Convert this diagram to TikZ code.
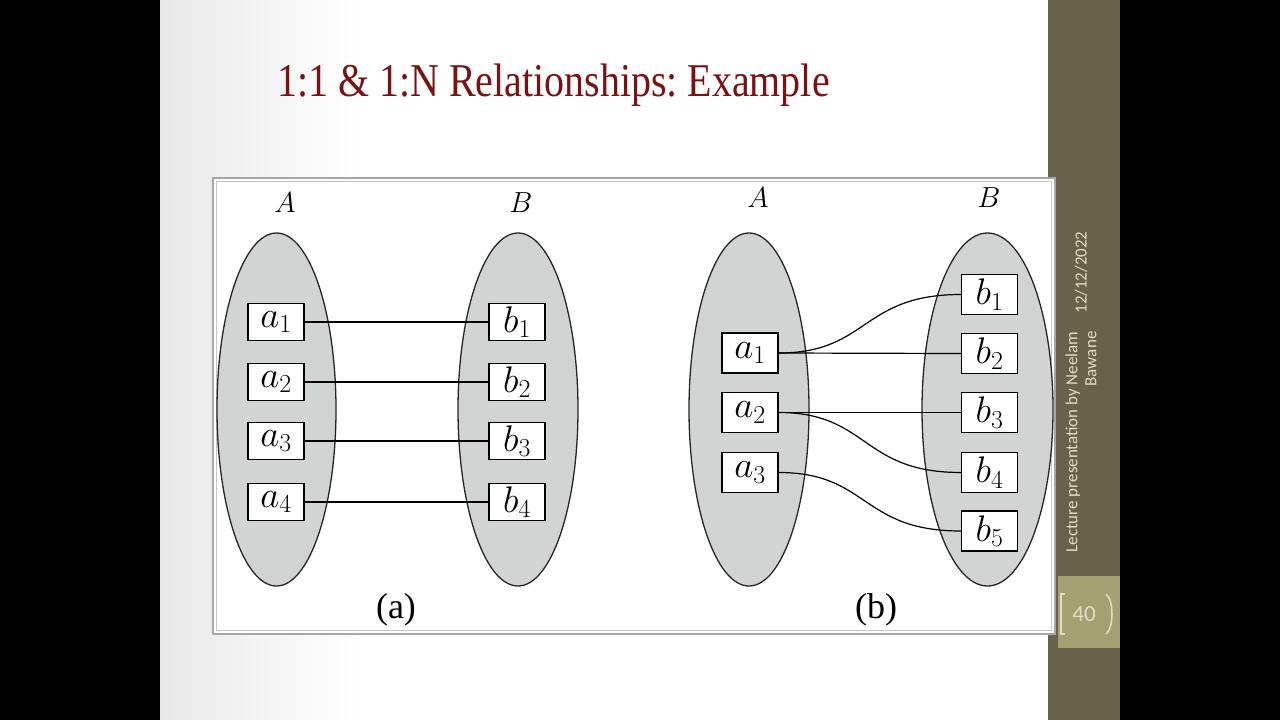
\RequirePackage{fix-cm}
\documentclass[tikz,border=0pt]{standalone}
\usepackage{amsmath}
\usepackage{fontspec}
\setmainfont{Liberation Serif}
\setsansfont{Carlito}
\usetikzlibrary{shapes.geometric}
\definecolor{titlered}{RGB}{122,18,20}
\definecolor{olivestrip}{RGB}{104,98,74}
\definecolor{olivebox}{RGB}{163,161,114}
\definecolor{cream}{RGB}{226,222,196}
\definecolor{setgray}{RGB}{210,212,212}
\begin{document}
\begin{tikzpicture}[x=1pt,y=-1pt,
  set/.style={ellipse, draw=black!85, fill=setgray, line width=1.3pt, inner sep=0pt},
  elem/.style={draw=black, fill=white, line width=1.4pt, minimum width=56pt, minimum height=37pt, inner sep=0pt, font=\fontsize{37}{37}\selectfont},
  lbl/.style={font=\fontsize{29}{29}\selectfont},
  subcap/.style={font=\fontsize{36}{36}\selectfont},
  link/.style={black, line width=1.2pt},
  side/.style={text=cream, font=\sffamily\fontsize{17}{19}\selectfont}]
              \useasboundingbox (0,0) rectangle (1280,720);
              \fill [black] (0,0) rectangle (1280,720);
              \fill [white] (160,0) rectangle (1048,720);
              \shade [left color=black!9, right color=white] (160,0) rectangle (360,720);
              \fill [olivestrip] (1048,0) rectangle (1120,720);
              \fill [olivebox] (1058,576) rectangle (1120,648);
              \node [anchor=base west, inner sep=0pt, text=titlered, font=\fontsize{47}{47}\selectfont] (title) at (277,96) {\scalebox{0.85}[1]{1:1 \& 1:N Relationships:\hspace{-4pt} Example}};
              \draw [gray!70, line width=1.5pt, fill=white] (213,178) rectangle (1055,634);
              \draw [gray!45, line width=0.8pt] (216.5,181.5) rectangle (1051.5,630.5);
              \node [set, minimum width=119pt, minimum height=353pt] (setA1) at (276.5,409.5) {};
              \node [set, minimum width=120pt, minimum height=353pt] (setB1) at (518,409.5) {};
              \node [lbl] (labA1) at (285,203) {$A$};
              \node [lbl] (labB1) at (521,203) {$B$};
              \node [elem] (a1) at (276,322) {$a_1$};
              \node [elem] (a2) at (276,382) {$a_2$};
              \node [elem] (a3) at (276,441) {$a_3$};
              \node [elem] (a4) at (276,502) {$a_4$};
              \node [elem] (b1) at (517,322) {$b_1$};
              \node [elem] (b2) at (517,382) {$b_2$};
              \node [elem] (b3) at (517,441) {$b_3$};
              \node [elem] (b4) at (517,502) {$b_4$};
              \draw [link] (a1.east) -- (b1.west);
              \draw [link] (a2.east) -- (b2.west);
              \draw [link] (a3.east) -- (b3.west);
              \draw [link] (a4.east) -- (b4.west);
              \node [subcap] (capa) at (396,610) {(a)};
              \node [set, minimum width=120pt, minimum height=353pt] (setA2) at (749,409.5) {};
              \node [set, minimum width=131pt, minimum height=353pt] (setB2) at (987.5,409.5) {};
              \node [lbl] (labA2) at (758,198) {$A$};
              \node [lbl] (labB2) at (989,198) {$B$};
              \node [elem, minimum height=40pt] (a5) at (750,353) {$a_1$};
              \node [elem, minimum height=40pt] (a6) at (750,412.5) {$a_2$};
              \node [elem, minimum height=40pt] (a7) at (750,472.5) {$a_3$};
              \node [elem, minimum height=40pt] (b5) at (989.5,294.5) {$b_1$};
              \node [elem, minimum height=40pt] (b6) at (989.5,353.5) {$b_2$};
              \node [elem, minimum height=40pt] (b7) at (989.5,412.5) {$b_3$};
              \node [elem, minimum height=40pt] (b8) at (989.5,472.5) {$b_4$};
              \node [elem, minimum height=40pt] (b9) at (989.5,531) {$b_5$};
              \draw [link] (a5.east) .. controls +(90,0) and +(-100,0) .. (b5.west);
              \draw [link] (a5.east) -- (b6.west);
              \draw [link] (a6.east) -- (b7.west);
              \draw [link] (a6.east) .. controls +(90,0) and +(-100,0) .. (b8.west);
              \draw [link] (a7.east) .. controls +(90,0) and +(-100,0) .. (b9.west);
              \node [subcap] (capb) at (876,610) {(b)};
              \node [side, rotate=90, align=right, anchor=east] (author) at (1081,328) {Lecture presentation by Neelam\\Bawane};
              \node [side, rotate=90, anchor=east] (date) at (1081,228) {12/12/2022};
              \node [text=cream, font=\sffamily\fontsize{23}{23}\selectfont] (pgno) at (1084,614) {40};
              \draw [cream, line width=1.2pt] (1065,594) -- (1061,594) -- (1061,634) -- (1065,634);
              \draw [cream, line width=1.5pt] (1106,594) .. controls (1114,600) and (1114,628) .. (1106,634);
            \end{tikzpicture}
\end{document}
